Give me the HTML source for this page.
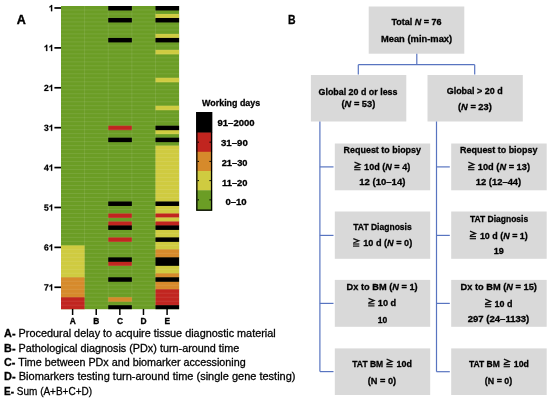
<!DOCTYPE html>
<html><head><meta charset="utf-8"><style>
html,body{margin:0;padding:0;background:#fff;width:550px;height:400px;overflow:hidden}
svg{display:block;will-change:transform}
text{font-family:"Liberation Sans",sans-serif;fill:#000}
.ar{font-weight:bold}
.b{font-weight:bold;stroke:#000;stroke-width:0.3px}
.r{font-weight:normal;stroke:#000;stroke-width:0.28px}
</style></head><body>
<svg width="550" height="400" viewBox="0 0 550 400">
<rect width="550" height="400" fill="#fff"/>
<rect x="61.0" y="6.0" width="118.10" height="303.20" fill="#6b9d25"/>
<rect x="61.00" y="245.37" width="23.62" height="32.42" fill="#cfcb40"/>
<rect x="61.00" y="277.28" width="23.62" height="20.45" fill="#d68a2b"/>
<rect x="61.00" y="297.23" width="23.62" height="11.97" fill="#c1251f"/>
<rect x="108.24" y="125.68" width="23.62" height="4.49" fill="#c1251f"/>
<rect x="108.24" y="213.45" width="23.62" height="4.49" fill="#c1251f"/>
<rect x="108.24" y="221.43" width="23.62" height="4.49" fill="#c1251f"/>
<rect x="108.24" y="237.39" width="23.62" height="4.49" fill="#c1251f"/>
<rect x="108.24" y="261.33" width="23.62" height="4.49" fill="#c1251f"/>
<rect x="108.24" y="297.23" width="23.62" height="4.49" fill="#d68a2b"/>
<rect x="155.48" y="13.98" width="23.62" height="4.49" fill="#cfcb40"/>
<rect x="155.48" y="33.93" width="23.62" height="4.49" fill="#cfcb40"/>
<rect x="155.48" y="49.88" width="23.62" height="4.49" fill="#cfcb40"/>
<rect x="155.48" y="77.81" width="23.62" height="4.49" fill="#cfcb40"/>
<rect x="155.48" y="105.74" width="23.62" height="4.49" fill="#cfcb40"/>
<rect x="155.48" y="129.67" width="23.62" height="4.49" fill="#cfcb40"/>
<rect x="155.48" y="145.63" width="23.62" height="56.35" fill="#cfcb40"/>
<rect x="155.48" y="205.47" width="23.62" height="8.48" fill="#cfcb40"/>
<rect x="155.48" y="213.45" width="23.62" height="4.49" fill="#c1251f"/>
<rect x="155.48" y="217.44" width="23.62" height="4.49" fill="#cfcb40"/>
<rect x="155.48" y="221.43" width="23.62" height="4.49" fill="#c1251f"/>
<rect x="155.48" y="229.41" width="23.62" height="8.48" fill="#cfcb40"/>
<rect x="155.48" y="241.38" width="23.62" height="8.48" fill="#cfcb40"/>
<rect x="155.48" y="249.36" width="23.62" height="8.48" fill="#d68a2b"/>
<rect x="155.48" y="265.32" width="23.62" height="8.48" fill="#cfcb40"/>
<rect x="155.48" y="273.29" width="23.62" height="4.49" fill="#d68a2b"/>
<rect x="155.48" y="281.27" width="23.62" height="8.48" fill="#d68a2b"/>
<rect x="155.48" y="289.25" width="23.62" height="16.46" fill="#c1251f"/>
<line x1="61.0" x2="179.1" y1="9.99" y2="9.99" stroke="#fff" stroke-opacity="0.16" stroke-width="0.6"/>
<line x1="61.0" x2="179.1" y1="13.98" y2="13.98" stroke="#fff" stroke-opacity="0.16" stroke-width="0.6"/>
<line x1="61.0" x2="179.1" y1="17.97" y2="17.97" stroke="#fff" stroke-opacity="0.16" stroke-width="0.6"/>
<line x1="61.0" x2="179.1" y1="21.96" y2="21.96" stroke="#fff" stroke-opacity="0.16" stroke-width="0.6"/>
<line x1="61.0" x2="179.1" y1="25.95" y2="25.95" stroke="#fff" stroke-opacity="0.16" stroke-width="0.6"/>
<line x1="61.0" x2="179.1" y1="29.94" y2="29.94" stroke="#fff" stroke-opacity="0.16" stroke-width="0.6"/>
<line x1="61.0" x2="179.1" y1="33.93" y2="33.93" stroke="#fff" stroke-opacity="0.16" stroke-width="0.6"/>
<line x1="61.0" x2="179.1" y1="37.92" y2="37.92" stroke="#fff" stroke-opacity="0.16" stroke-width="0.6"/>
<line x1="61.0" x2="179.1" y1="41.91" y2="41.91" stroke="#fff" stroke-opacity="0.16" stroke-width="0.6"/>
<line x1="61.0" x2="179.1" y1="45.89" y2="45.89" stroke="#fff" stroke-opacity="0.16" stroke-width="0.6"/>
<line x1="61.0" x2="179.1" y1="49.88" y2="49.88" stroke="#fff" stroke-opacity="0.16" stroke-width="0.6"/>
<line x1="61.0" x2="179.1" y1="53.87" y2="53.87" stroke="#fff" stroke-opacity="0.16" stroke-width="0.6"/>
<line x1="61.0" x2="179.1" y1="57.86" y2="57.86" stroke="#fff" stroke-opacity="0.16" stroke-width="0.6"/>
<line x1="61.0" x2="179.1" y1="61.85" y2="61.85" stroke="#fff" stroke-opacity="0.16" stroke-width="0.6"/>
<line x1="61.0" x2="179.1" y1="65.84" y2="65.84" stroke="#fff" stroke-opacity="0.16" stroke-width="0.6"/>
<line x1="61.0" x2="179.1" y1="69.83" y2="69.83" stroke="#fff" stroke-opacity="0.16" stroke-width="0.6"/>
<line x1="61.0" x2="179.1" y1="73.82" y2="73.82" stroke="#fff" stroke-opacity="0.16" stroke-width="0.6"/>
<line x1="61.0" x2="179.1" y1="77.81" y2="77.81" stroke="#fff" stroke-opacity="0.16" stroke-width="0.6"/>
<line x1="61.0" x2="179.1" y1="81.80" y2="81.80" stroke="#fff" stroke-opacity="0.16" stroke-width="0.6"/>
<line x1="61.0" x2="179.1" y1="85.79" y2="85.79" stroke="#fff" stroke-opacity="0.16" stroke-width="0.6"/>
<line x1="61.0" x2="179.1" y1="89.78" y2="89.78" stroke="#fff" stroke-opacity="0.16" stroke-width="0.6"/>
<line x1="61.0" x2="179.1" y1="93.77" y2="93.77" stroke="#fff" stroke-opacity="0.16" stroke-width="0.6"/>
<line x1="61.0" x2="179.1" y1="97.76" y2="97.76" stroke="#fff" stroke-opacity="0.16" stroke-width="0.6"/>
<line x1="61.0" x2="179.1" y1="101.75" y2="101.75" stroke="#fff" stroke-opacity="0.16" stroke-width="0.6"/>
<line x1="61.0" x2="179.1" y1="105.74" y2="105.74" stroke="#fff" stroke-opacity="0.16" stroke-width="0.6"/>
<line x1="61.0" x2="179.1" y1="109.73" y2="109.73" stroke="#fff" stroke-opacity="0.16" stroke-width="0.6"/>
<line x1="61.0" x2="179.1" y1="113.72" y2="113.72" stroke="#fff" stroke-opacity="0.16" stroke-width="0.6"/>
<line x1="61.0" x2="179.1" y1="117.71" y2="117.71" stroke="#fff" stroke-opacity="0.16" stroke-width="0.6"/>
<line x1="61.0" x2="179.1" y1="121.69" y2="121.69" stroke="#fff" stroke-opacity="0.16" stroke-width="0.6"/>
<line x1="61.0" x2="179.1" y1="125.68" y2="125.68" stroke="#fff" stroke-opacity="0.16" stroke-width="0.6"/>
<line x1="61.0" x2="179.1" y1="129.67" y2="129.67" stroke="#fff" stroke-opacity="0.16" stroke-width="0.6"/>
<line x1="61.0" x2="179.1" y1="133.66" y2="133.66" stroke="#fff" stroke-opacity="0.16" stroke-width="0.6"/>
<line x1="61.0" x2="179.1" y1="137.65" y2="137.65" stroke="#fff" stroke-opacity="0.16" stroke-width="0.6"/>
<line x1="61.0" x2="179.1" y1="141.64" y2="141.64" stroke="#fff" stroke-opacity="0.16" stroke-width="0.6"/>
<line x1="61.0" x2="179.1" y1="145.63" y2="145.63" stroke="#fff" stroke-opacity="0.16" stroke-width="0.6"/>
<line x1="61.0" x2="179.1" y1="149.62" y2="149.62" stroke="#fff" stroke-opacity="0.16" stroke-width="0.6"/>
<line x1="61.0" x2="179.1" y1="153.61" y2="153.61" stroke="#fff" stroke-opacity="0.16" stroke-width="0.6"/>
<line x1="61.0" x2="179.1" y1="157.60" y2="157.60" stroke="#fff" stroke-opacity="0.16" stroke-width="0.6"/>
<line x1="61.0" x2="179.1" y1="161.59" y2="161.59" stroke="#fff" stroke-opacity="0.16" stroke-width="0.6"/>
<line x1="61.0" x2="179.1" y1="165.58" y2="165.58" stroke="#fff" stroke-opacity="0.16" stroke-width="0.6"/>
<line x1="61.0" x2="179.1" y1="169.57" y2="169.57" stroke="#fff" stroke-opacity="0.16" stroke-width="0.6"/>
<line x1="61.0" x2="179.1" y1="173.56" y2="173.56" stroke="#fff" stroke-opacity="0.16" stroke-width="0.6"/>
<line x1="61.0" x2="179.1" y1="177.55" y2="177.55" stroke="#fff" stroke-opacity="0.16" stroke-width="0.6"/>
<line x1="61.0" x2="179.1" y1="181.54" y2="181.54" stroke="#fff" stroke-opacity="0.16" stroke-width="0.6"/>
<line x1="61.0" x2="179.1" y1="185.53" y2="185.53" stroke="#fff" stroke-opacity="0.16" stroke-width="0.6"/>
<line x1="61.0" x2="179.1" y1="189.52" y2="189.52" stroke="#fff" stroke-opacity="0.16" stroke-width="0.6"/>
<line x1="61.0" x2="179.1" y1="193.51" y2="193.51" stroke="#fff" stroke-opacity="0.16" stroke-width="0.6"/>
<line x1="61.0" x2="179.1" y1="197.49" y2="197.49" stroke="#fff" stroke-opacity="0.16" stroke-width="0.6"/>
<line x1="61.0" x2="179.1" y1="201.48" y2="201.48" stroke="#fff" stroke-opacity="0.16" stroke-width="0.6"/>
<line x1="61.0" x2="179.1" y1="205.47" y2="205.47" stroke="#fff" stroke-opacity="0.16" stroke-width="0.6"/>
<line x1="61.0" x2="179.1" y1="209.46" y2="209.46" stroke="#fff" stroke-opacity="0.16" stroke-width="0.6"/>
<line x1="61.0" x2="179.1" y1="213.45" y2="213.45" stroke="#fff" stroke-opacity="0.16" stroke-width="0.6"/>
<line x1="61.0" x2="179.1" y1="217.44" y2="217.44" stroke="#fff" stroke-opacity="0.16" stroke-width="0.6"/>
<line x1="61.0" x2="179.1" y1="221.43" y2="221.43" stroke="#fff" stroke-opacity="0.16" stroke-width="0.6"/>
<line x1="61.0" x2="179.1" y1="225.42" y2="225.42" stroke="#fff" stroke-opacity="0.16" stroke-width="0.6"/>
<line x1="61.0" x2="179.1" y1="229.41" y2="229.41" stroke="#fff" stroke-opacity="0.16" stroke-width="0.6"/>
<line x1="61.0" x2="179.1" y1="233.40" y2="233.40" stroke="#fff" stroke-opacity="0.16" stroke-width="0.6"/>
<line x1="61.0" x2="179.1" y1="237.39" y2="237.39" stroke="#fff" stroke-opacity="0.16" stroke-width="0.6"/>
<line x1="61.0" x2="179.1" y1="241.38" y2="241.38" stroke="#fff" stroke-opacity="0.16" stroke-width="0.6"/>
<line x1="61.0" x2="179.1" y1="245.37" y2="245.37" stroke="#fff" stroke-opacity="0.16" stroke-width="0.6"/>
<line x1="61.0" x2="179.1" y1="249.36" y2="249.36" stroke="#fff" stroke-opacity="0.16" stroke-width="0.6"/>
<line x1="61.0" x2="179.1" y1="253.35" y2="253.35" stroke="#fff" stroke-opacity="0.16" stroke-width="0.6"/>
<line x1="61.0" x2="179.1" y1="257.34" y2="257.34" stroke="#fff" stroke-opacity="0.16" stroke-width="0.6"/>
<line x1="61.0" x2="179.1" y1="261.33" y2="261.33" stroke="#fff" stroke-opacity="0.16" stroke-width="0.6"/>
<line x1="61.0" x2="179.1" y1="265.32" y2="265.32" stroke="#fff" stroke-opacity="0.16" stroke-width="0.6"/>
<line x1="61.0" x2="179.1" y1="269.31" y2="269.31" stroke="#fff" stroke-opacity="0.16" stroke-width="0.6"/>
<line x1="61.0" x2="179.1" y1="273.29" y2="273.29" stroke="#fff" stroke-opacity="0.16" stroke-width="0.6"/>
<line x1="61.0" x2="179.1" y1="277.28" y2="277.28" stroke="#fff" stroke-opacity="0.16" stroke-width="0.6"/>
<line x1="61.0" x2="179.1" y1="281.27" y2="281.27" stroke="#fff" stroke-opacity="0.16" stroke-width="0.6"/>
<line x1="61.0" x2="179.1" y1="285.26" y2="285.26" stroke="#fff" stroke-opacity="0.16" stroke-width="0.6"/>
<line x1="61.0" x2="179.1" y1="289.25" y2="289.25" stroke="#fff" stroke-opacity="0.16" stroke-width="0.6"/>
<line x1="61.0" x2="179.1" y1="293.24" y2="293.24" stroke="#fff" stroke-opacity="0.16" stroke-width="0.6"/>
<line x1="61.0" x2="179.1" y1="297.23" y2="297.23" stroke="#fff" stroke-opacity="0.16" stroke-width="0.6"/>
<line x1="61.0" x2="179.1" y1="301.22" y2="301.22" stroke="#fff" stroke-opacity="0.16" stroke-width="0.6"/>
<line x1="61.0" x2="179.1" y1="305.21" y2="305.21" stroke="#fff" stroke-opacity="0.16" stroke-width="0.6"/>
<line x1="84.62" x2="84.62" y1="6.0" y2="309.2" stroke="#fff" stroke-opacity="0.16" stroke-width="0.6"/>
<line x1="108.24" x2="108.24" y1="6.0" y2="309.2" stroke="#fff" stroke-opacity="0.16" stroke-width="0.6"/>
<line x1="131.86" x2="131.86" y1="6.0" y2="309.2" stroke="#fff" stroke-opacity="0.16" stroke-width="0.6"/>
<line x1="155.48" x2="155.48" y1="6.0" y2="309.2" stroke="#fff" stroke-opacity="0.16" stroke-width="0.6"/>
<rect x="108.24" y="6.00" width="23.62" height="4.49" fill="#000000"/>
<rect x="108.24" y="17.97" width="23.62" height="4.49" fill="#000000"/>
<rect x="108.24" y="37.92" width="23.62" height="4.49" fill="#000000"/>
<rect x="108.24" y="137.65" width="23.62" height="4.49" fill="#000000"/>
<rect x="108.24" y="201.48" width="23.62" height="4.49" fill="#000000"/>
<rect x="108.24" y="225.42" width="23.62" height="4.49" fill="#000000"/>
<rect x="108.24" y="257.34" width="23.62" height="4.49" fill="#000000"/>
<rect x="108.24" y="277.28" width="23.62" height="4.49" fill="#000000"/>
<rect x="108.24" y="305.21" width="23.62" height="3.99" fill="#000000"/>
<rect x="155.48" y="6.00" width="23.62" height="4.49" fill="#000000"/>
<rect x="155.48" y="17.97" width="23.62" height="4.49" fill="#000000"/>
<rect x="155.48" y="37.92" width="23.62" height="4.49" fill="#000000"/>
<rect x="155.48" y="125.68" width="23.62" height="4.49" fill="#000000"/>
<rect x="155.48" y="137.65" width="23.62" height="4.49" fill="#000000"/>
<rect x="155.48" y="201.48" width="23.62" height="4.49" fill="#000000"/>
<rect x="155.48" y="225.42" width="23.62" height="4.49" fill="#000000"/>
<rect x="155.48" y="237.39" width="23.62" height="4.49" fill="#000000"/>
<rect x="155.48" y="257.34" width="23.62" height="8.48" fill="#000000"/>
<rect x="155.48" y="277.28" width="23.62" height="4.49" fill="#000000"/>
<rect x="155.48" y="305.21" width="23.62" height="3.99" fill="#000000"/>
<line x1="54.4" x2="61.0" y1="7.99" y2="7.99" stroke="#000" stroke-width="1.7"/>
<path transform="translate(48.81,11.14) scale(0.00430,-0.00430)" d="M780 0L506 0L506 1032Q356 892 152 825L152 1073Q259 1108 385 1206Q511 1305 558 1436L780 1436Z" stroke="#000" stroke-width="58" stroke-linejoin="round"/>
<line x1="54.4" x2="61.0" y1="47.89" y2="47.89" stroke="#000" stroke-width="1.7"/>
<path transform="translate(43.91,51.04) scale(0.00430,-0.00430)" d="M780 0L506 0L506 1032Q356 892 152 825L152 1073Q259 1108 385 1206Q511 1305 558 1436L780 1436Z" stroke="#000" stroke-width="58" stroke-linejoin="round"/>
<path transform="translate(48.81,51.04) scale(0.00430,-0.00430)" d="M780 0L506 0L506 1032Q356 892 152 825L152 1073Q259 1108 385 1206Q511 1305 558 1436L780 1436Z" stroke="#000" stroke-width="58" stroke-linejoin="round"/>
<line x1="54.4" x2="61.0" y1="87.78" y2="87.78" stroke="#000" stroke-width="1.7"/>
<path transform="translate(43.91,90.93) scale(0.00430,-0.00430)" d="M71 0V195Q126 316 227.5 431.0Q329 546 483 671Q631 791 690.5 869.0Q750 947 750 1022Q750 1206 565 1206Q475 1206 427.5 1157.5Q380 1109 366 1012L83 1028Q107 1224 229.5 1327.0Q352 1430 563 1430Q791 1430 913.0 1326.0Q1035 1222 1035 1034Q1035 935 996.0 855.0Q957 775 896.0 707.5Q835 640 760.5 581.0Q686 522 616.0 466.0Q546 410 488.5 353.0Q431 296 403 231H1057V0Z" stroke="#000" stroke-width="58" stroke-linejoin="round"/>
<path transform="translate(48.81,90.93) scale(0.00430,-0.00430)" d="M780 0L506 0L506 1032Q356 892 152 825L152 1073Q259 1108 385 1206Q511 1305 558 1436L780 1436Z" stroke="#000" stroke-width="58" stroke-linejoin="round"/>
<line x1="54.4" x2="61.0" y1="127.68" y2="127.68" stroke="#000" stroke-width="1.7"/>
<path transform="translate(43.91,130.83) scale(0.00430,-0.00430)" d="M1065 391Q1065 193 935.0 85.0Q805 -23 565 -23Q338 -23 204.0 81.5Q70 186 47 383L333 408Q360 205 564 205Q665 205 721.0 255.0Q777 305 777 408Q777 502 709.0 552.0Q641 602 507 602H409V829H501Q622 829 683.0 878.5Q744 928 744 1020Q744 1107 695.5 1156.5Q647 1206 554 1206Q467 1206 413.5 1158.0Q360 1110 352 1022L71 1042Q93 1224 222.0 1327.0Q351 1430 559 1430Q780 1430 904.5 1330.5Q1029 1231 1029 1055Q1029 923 951.5 838.0Q874 753 728 725V721Q890 702 977.5 614.5Q1065 527 1065 391Z" stroke="#000" stroke-width="58" stroke-linejoin="round"/>
<path transform="translate(48.81,130.83) scale(0.00430,-0.00430)" d="M780 0L506 0L506 1032Q356 892 152 825L152 1073Q259 1108 385 1206Q511 1305 558 1436L780 1436Z" stroke="#000" stroke-width="58" stroke-linejoin="round"/>
<line x1="54.4" x2="61.0" y1="167.57" y2="167.57" stroke="#000" stroke-width="1.7"/>
<path transform="translate(43.91,170.72) scale(0.00430,-0.00430)" d="M940 287V0H672V287H31V498L626 1409H940V496H1128V287ZM672 957Q672 1011 675.5 1074.0Q679 1137 681 1155Q655 1099 587 993L260 496H672Z" stroke="#000" stroke-width="58" stroke-linejoin="round"/>
<path transform="translate(48.81,170.72) scale(0.00430,-0.00430)" d="M780 0L506 0L506 1032Q356 892 152 825L152 1073Q259 1108 385 1206Q511 1305 558 1436L780 1436Z" stroke="#000" stroke-width="58" stroke-linejoin="round"/>
<line x1="54.4" x2="61.0" y1="207.47" y2="207.47" stroke="#000" stroke-width="1.7"/>
<path transform="translate(43.91,210.62) scale(0.00430,-0.00430)" d="M1082 469Q1082 245 942.5 112.5Q803 -20 560 -20Q348 -20 220.5 75.5Q93 171 63 352L344 375Q366 285 422.0 244.0Q478 203 563 203Q668 203 730.5 270.0Q793 337 793 463Q793 574 734.0 640.5Q675 707 569 707Q452 707 378 616H104L153 1409H1000V1200H408L385 844Q487 934 640 934Q841 934 961.5 809.0Q1082 684 1082 469Z" stroke="#000" stroke-width="58" stroke-linejoin="round"/>
<path transform="translate(48.81,210.62) scale(0.00430,-0.00430)" d="M780 0L506 0L506 1032Q356 892 152 825L152 1073Q259 1108 385 1206Q511 1305 558 1436L780 1436Z" stroke="#000" stroke-width="58" stroke-linejoin="round"/>
<line x1="54.4" x2="61.0" y1="247.36" y2="247.36" stroke="#000" stroke-width="1.7"/>
<path transform="translate(43.91,250.51) scale(0.00430,-0.00430)" d="M1065 461Q1065 236 939.0 108.0Q813 -20 591 -20Q342 -20 208.5 154.5Q75 329 75 672Q75 1049 210.5 1239.5Q346 1430 598 1430Q777 1430 880.5 1351.0Q984 1272 1027 1106L762 1069Q724 1208 592 1208Q479 1208 414.5 1095.0Q350 982 350 752Q395 827 475.0 867.0Q555 907 656 907Q845 907 955.0 787.0Q1065 667 1065 461ZM783 453Q783 573 727.5 636.5Q672 700 575 700Q482 700 426.0 640.5Q370 581 370 483Q370 360 428.5 279.5Q487 199 582 199Q677 199 730.0 266.5Q783 334 783 453Z" stroke="#000" stroke-width="58" stroke-linejoin="round"/>
<path transform="translate(48.81,250.51) scale(0.00430,-0.00430)" d="M780 0L506 0L506 1032Q356 892 152 825L152 1073Q259 1108 385 1206Q511 1305 558 1436L780 1436Z" stroke="#000" stroke-width="58" stroke-linejoin="round"/>
<line x1="54.4" x2="61.0" y1="287.26" y2="287.26" stroke="#000" stroke-width="1.7"/>
<path transform="translate(43.91,290.41) scale(0.00430,-0.00430)" d="M1049 1186Q954 1036 869.5 895.0Q785 754 722.0 611.5Q659 469 622.5 318.5Q586 168 586 0H293Q293 176 339.0 340.5Q385 505 472.0 675.5Q559 846 788 1178H88V1409H1049Z" stroke="#000" stroke-width="58" stroke-linejoin="round"/>
<path transform="translate(48.81,290.41) scale(0.00430,-0.00430)" d="M780 0L506 0L506 1032Q356 892 152 825L152 1073Q259 1108 385 1206Q511 1305 558 1436L780 1436Z" stroke="#000" stroke-width="58" stroke-linejoin="round"/>
<line x1="72.61" x2="72.61" y1="308.9" y2="315" stroke="#000" stroke-width="1.5"/>
<text x="72.71" y="324.3" text-anchor="middle" class="ar" font-size="8.4" style="stroke:#000;stroke-width:0.3px">A</text>
<line x1="96.23" x2="96.23" y1="308.9" y2="315" stroke="#000" stroke-width="1.5"/>
<text x="96.33" y="324.3" text-anchor="middle" class="ar" font-size="8.4" style="stroke:#000;stroke-width:0.3px">B</text>
<line x1="119.85" x2="119.85" y1="308.9" y2="315" stroke="#000" stroke-width="1.5"/>
<text x="119.95" y="324.3" text-anchor="middle" class="ar" font-size="8.4" style="stroke:#000;stroke-width:0.3px">C</text>
<line x1="143.47" x2="143.47" y1="308.9" y2="315" stroke="#000" stroke-width="1.5"/>
<text x="143.57" y="324.3" text-anchor="middle" class="ar" font-size="8.4" style="stroke:#000;stroke-width:0.3px">D</text>
<line x1="167.09" x2="167.09" y1="308.9" y2="315" stroke="#000" stroke-width="1.5"/>
<text x="167.19" y="324.3" text-anchor="middle" class="ar" font-size="8.4" style="stroke:#000;stroke-width:0.3px">E</text>
<text x="16.8" y="24" class="ar" font-size="12.5" style="stroke:#000;stroke-width:0.4px">A</text>
<text x="288.00" y="23.70" class="b" font-size="12.6" textLength="7.60" lengthAdjust="spacingAndGlyphs">B</text>
<text x="202.10" y="105.70" class="b" font-size="9.4" textLength="58.10" lengthAdjust="spacingAndGlyphs">Working days</text>
<rect x="196.2" y="112.00" width="16.0" height="20.94" fill="#000000"/>
<line x1="197.5" x2="199.0" y1="122.92" y2="122.92" stroke="#000" stroke-width="1"/>
<line x1="209.39999999999998" x2="210.89999999999998" y1="122.92" y2="122.92" stroke="#000" stroke-width="1"/>
<rect x="196.2" y="132.54" width="16.0" height="19.64" fill="#c1251f"/>
<line x1="197.5" x2="199.0" y1="142.16" y2="142.16" stroke="#000" stroke-width="1"/>
<line x1="209.39999999999998" x2="210.89999999999998" y1="142.16" y2="142.16" stroke="#000" stroke-width="1"/>
<rect x="196.2" y="151.78" width="16.0" height="19.64" fill="#d68a2b"/>
<line x1="197.5" x2="199.0" y1="161.40" y2="161.40" stroke="#000" stroke-width="1"/>
<line x1="209.39999999999998" x2="210.89999999999998" y1="161.40" y2="161.40" stroke="#000" stroke-width="1"/>
<rect x="196.2" y="171.02" width="16.0" height="19.64" fill="#cfcb40"/>
<line x1="197.5" x2="199.0" y1="180.64" y2="180.64" stroke="#000" stroke-width="1"/>
<line x1="209.39999999999998" x2="210.89999999999998" y1="180.64" y2="180.64" stroke="#000" stroke-width="1"/>
<rect x="196.2" y="190.26" width="16.0" height="20.54" fill="#6b9d25"/>
<line x1="197.5" x2="199.0" y1="199.88" y2="199.88" stroke="#000" stroke-width="1"/>
<line x1="209.39999999999998" x2="210.89999999999998" y1="199.88" y2="199.88" stroke="#000" stroke-width="1"/>
<rect x="196.85" y="112.65" width="14.7" height="97.50000000000001" fill="none" stroke="#000" stroke-width="1.3"/>
<text x="217.50" y="126.30" class="b" font-size="9.4" textLength="37.10" lengthAdjust="spacingAndGlyphs">91–2000</text>
<text x="221.00" y="145.60" class="b" font-size="9.4" textLength="26.80" lengthAdjust="spacingAndGlyphs">31–90</text>
<text x="221.70" y="165.80" class="b" font-size="9.4" textLength="25.80" lengthAdjust="spacingAndGlyphs">21–30</text>
<text x="222.00" y="185.70" class="b" font-size="9.4" textLength="25.50" lengthAdjust="spacingAndGlyphs">11–20</text>
<text x="225.40" y="205.40" class="b" font-size="9.4" textLength="21.30" lengthAdjust="spacingAndGlyphs">0–10</text>
<text x="4.1" y="336.8" class="r" font-size="10.6" textLength="271.60" lengthAdjust="spacingAndGlyphs"><tspan font-weight="bold">A-</tspan> Procedural delay to acquire tissue diagnostic material</text>
<text x="4.1" y="351.6" class="r" font-size="10.6" textLength="235.20" lengthAdjust="spacingAndGlyphs"><tspan font-weight="bold">B-</tspan> Pathological diagnosis (PDx) turn-around time</text>
<text x="4.1" y="365.8" class="r" font-size="10.6" textLength="241.60" lengthAdjust="spacingAndGlyphs"><tspan font-weight="bold">C-</tspan> Time between PDx and biomarker accessioning</text>
<text x="4.1" y="380.2" class="r" font-size="10.6" textLength="291.40" lengthAdjust="spacingAndGlyphs"><tspan font-weight="bold">D-</tspan> Biomarkers testing turn-around time (single gene testing)</text>
<text x="4.1" y="394.5" class="r" font-size="10.6" textLength="87.90" lengthAdjust="spacingAndGlyphs"><tspan font-weight="bold">E-</tspan> Sum (A+B+C+D)</text>
<rect x="368.7" y="6.5" width="95.60" height="47.20" fill="#d9d9d9"/>
<rect x="310.9" y="75" width="95.40" height="46.50" fill="#d9d9d9"/>
<rect x="427.5" y="75" width="95.30" height="46.50" fill="#d9d9d9"/>
<rect x="334.8" y="143.5" width="95.40" height="46.80" fill="#d9d9d9"/>
<rect x="451.2" y="143.5" width="95.50" height="46.80" fill="#d9d9d9"/>
<rect x="334.8" y="211.5" width="95.40" height="47.30" fill="#d9d9d9"/>
<rect x="451.2" y="211.5" width="95.50" height="47.30" fill="#d9d9d9"/>
<rect x="334.8" y="279.9" width="95.40" height="46.90" fill="#d9d9d9"/>
<rect x="451.2" y="279.9" width="95.50" height="46.90" fill="#d9d9d9"/>
<rect x="334.8" y="348.4" width="95.40" height="46.60" fill="#d9d9d9"/>
<rect x="451.2" y="348.4" width="95.50" height="46.60" fill="#d9d9d9"/>
<line x1="416.8" y1="53.7" x2="416.8" y2="64.7" stroke="#5874c0" stroke-width="1.2"/>
<line x1="358.3" y1="64.7" x2="474.7" y2="64.7" stroke="#5874c0" stroke-width="1.2"/>
<line x1="358.3" y1="64.7" x2="358.3" y2="74.5" stroke="#5874c0" stroke-width="1.2"/>
<line x1="474.7" y1="64.7" x2="474.7" y2="74.5" stroke="#5874c0" stroke-width="1.2"/>
<line x1="319.9" y1="121.5" x2="319.9" y2="371.6" stroke="#5874c0" stroke-width="1.2"/>
<line x1="436.5" y1="121.5" x2="436.5" y2="371.7" stroke="#5874c0" stroke-width="1.2"/>
<path d="M319.9 371.6 L333.5 371.6" stroke="#5874c0" stroke-width="1.2"/>
<line x1="319.9" y1="166.9" x2="333.5" y2="166.9" stroke="#5874c0" stroke-width="1.2"/>
<line x1="319.9" y1="235.4" x2="333.5" y2="235.4" stroke="#5874c0" stroke-width="1.2"/>
<line x1="319.9" y1="303.4" x2="333.5" y2="303.4" stroke="#5874c0" stroke-width="1.2"/>
<line x1="436.5" y1="166.9" x2="449.8" y2="166.9" stroke="#5874c0" stroke-width="1.2"/>
<line x1="436.5" y1="235.4" x2="449.8" y2="235.4" stroke="#5874c0" stroke-width="1.2"/>
<line x1="436.5" y1="303.4" x2="449.8" y2="303.4" stroke="#5874c0" stroke-width="1.2"/>
<line x1="436.5" y1="371.7" x2="449.8" y2="371.7" stroke="#5874c0" stroke-width="1.2"/>
<text x="391.40" y="25.00" class="b" font-size="9.7" textLength="50.20" lengthAdjust="spacingAndGlyphs">Total <tspan font-style="italic">N</tspan> = 76</text>
<text x="380.90" y="42.00" class="b" font-size="9.7" textLength="71.30" lengthAdjust="spacingAndGlyphs">Mean (min-max)</text>
<text x="318.50" y="95.00" class="b" font-size="9.7" textLength="79.00" lengthAdjust="spacingAndGlyphs">Global 20 d or less</text>
<text x="341.50" y="107.00" class="b" font-size="9.7" textLength="33.80" lengthAdjust="spacingAndGlyphs">(<tspan font-style="italic">N</tspan> = 53)</text>
<text x="446.70" y="94.00" class="b" font-size="9.7" textLength="56.00" lengthAdjust="spacingAndGlyphs">Global &gt; 20 d</text>
<text x="458.00" y="110.00" class="b" font-size="9.7" textLength="33.80" lengthAdjust="spacingAndGlyphs">(<tspan font-style="italic">N</tspan> = 23)</text>
<text x="343.60" y="153.00" class="b" font-size="9.7" textLength="77.40" lengthAdjust="spacingAndGlyphs">Request to biopsy</text>
<path d="M354.50 162.20 L360.00 164.40 L354.50 166.60" fill="none" stroke="#111" stroke-width="1.3"/>
<line x1="354.20" x2="360.50" y1="167.60" y2="167.60" stroke="#111" stroke-width="1.2"/>
<line x1="354.20" x2="360.50" y1="169.70" y2="169.70" stroke="#111" stroke-width="1.2"/>
<text x="364.10" y="170.00" class="b" font-size="9.7" textLength="46.10" lengthAdjust="spacingAndGlyphs">10d (<tspan font-style="italic">N</tspan> = 4)</text>
<text x="359.30" y="185.00" class="b" font-size="9.7" textLength="46.10" lengthAdjust="spacingAndGlyphs">12 (10–14)</text>
<text x="460.10" y="153.00" class="b" font-size="9.7" textLength="77.30" lengthAdjust="spacingAndGlyphs">Request to biopsy</text>
<path d="M468.40 162.20 L473.90 164.40 L468.40 166.60" fill="none" stroke="#111" stroke-width="1.3"/>
<line x1="468.10" x2="474.40" y1="167.60" y2="167.60" stroke="#111" stroke-width="1.2"/>
<line x1="468.10" x2="474.40" y1="169.70" y2="169.70" stroke="#111" stroke-width="1.2"/>
<text x="477.80" y="170.00" class="b" font-size="9.7" textLength="52.20" lengthAdjust="spacingAndGlyphs">10d (<tspan font-style="italic">N</tspan> = 13)</text>
<text x="475.80" y="185.00" class="b" font-size="9.7" textLength="45.40" lengthAdjust="spacingAndGlyphs">12 (12–44)</text>
<text x="353.30" y="230.00" class="b" font-size="9.7" textLength="58.40" lengthAdjust="spacingAndGlyphs">TAT Diagnosis</text>
<path d="M353.30 238.60 L358.80 240.80 L353.30 243.00" fill="none" stroke="#111" stroke-width="1.3"/>
<line x1="353.00" x2="359.30" y1="244.00" y2="244.00" stroke="#111" stroke-width="1.2"/>
<line x1="353.00" x2="359.30" y1="246.10" y2="246.10" stroke="#111" stroke-width="1.2"/>
<text x="363.20" y="246.40" class="b" font-size="9.7" textLength="49.00" lengthAdjust="spacingAndGlyphs">10 d (<tspan font-style="italic">N</tspan> = 0)</text>
<text x="469.90" y="222.00" class="b" font-size="9.7" textLength="58.30" lengthAdjust="spacingAndGlyphs">TAT Diagnosis</text>
<path d="M470.00 231.20 L475.50 233.40 L470.00 235.60" fill="none" stroke="#111" stroke-width="1.3"/>
<line x1="469.70" x2="476.00" y1="236.60" y2="236.60" stroke="#111" stroke-width="1.2"/>
<line x1="469.70" x2="476.00" y1="238.70" y2="238.70" stroke="#111" stroke-width="1.2"/>
<text x="479.90" y="239.00" class="b" font-size="9.7" textLength="47.90" lengthAdjust="spacingAndGlyphs">10 d (<tspan font-style="italic">N</tspan> = 1)</text>
<text x="493.70" y="254.00" class="b" font-size="9.7" textLength="10.10" lengthAdjust="spacingAndGlyphs">19</text>
<text x="346.60" y="290.00" class="b" font-size="9.7" textLength="71.00" lengthAdjust="spacingAndGlyphs">Dx to BM (<tspan font-style="italic">N</tspan> = 1)</text>
<path d="M368.50 298.40 L374.00 300.60 L368.50 302.80" fill="none" stroke="#111" stroke-width="1.3"/>
<line x1="368.20" x2="374.50" y1="303.80" y2="303.80" stroke="#111" stroke-width="1.2"/>
<line x1="368.20" x2="374.50" y1="305.90" y2="305.90" stroke="#111" stroke-width="1.2"/>
<text x="377.80" y="306.20" class="b" font-size="9.7" textLength="18.40" lengthAdjust="spacingAndGlyphs">10 d</text>
<text x="377.80" y="323.00" class="b" font-size="9.7" textLength="9.50" lengthAdjust="spacingAndGlyphs">10</text>
<text x="460.50" y="290.00" class="b" font-size="9.7" textLength="76.40" lengthAdjust="spacingAndGlyphs">Dx to BM (<tspan font-style="italic">N</tspan> = 15)</text>
<path d="M485.20 299.20 L490.70 301.40 L485.20 303.60" fill="none" stroke="#111" stroke-width="1.3"/>
<line x1="484.90" x2="491.20" y1="304.60" y2="304.60" stroke="#111" stroke-width="1.2"/>
<line x1="484.90" x2="491.20" y1="306.70" y2="306.70" stroke="#111" stroke-width="1.2"/>
<text x="494.60" y="307.00" class="b" font-size="9.7" textLength="17.90" lengthAdjust="spacingAndGlyphs">10 d</text>
<text x="467.70" y="322.00" class="b" font-size="9.7" textLength="61.60" lengthAdjust="spacingAndGlyphs">297 (24–1133)</text>
<text x="352.30" y="367.00" class="b" font-size="9.7" textLength="30.90" lengthAdjust="spacingAndGlyphs">TAT BM</text>
<path d="M386.60 359.20 L392.10 361.40 L386.60 363.60" fill="none" stroke="#111" stroke-width="1.3"/>
<line x1="386.30" x2="392.60" y1="364.60" y2="364.60" stroke="#111" stroke-width="1.2"/>
<line x1="386.30" x2="392.60" y1="366.70" y2="366.70" stroke="#111" stroke-width="1.2"/>
<text x="396.60" y="367.00" class="b" font-size="9.7" textLength="15.40" lengthAdjust="spacingAndGlyphs">10d</text>
<text x="367.80" y="384.00" class="b" font-size="9.7" textLength="28.40" lengthAdjust="spacingAndGlyphs">(N = 0)</text>
<text x="468.90" y="367.00" class="b" font-size="9.7" textLength="30.90" lengthAdjust="spacingAndGlyphs">TAT BM</text>
<path d="M503.90 359.20 L509.40 361.40 L503.90 363.60" fill="none" stroke="#111" stroke-width="1.3"/>
<line x1="503.60" x2="509.90" y1="364.60" y2="364.60" stroke="#111" stroke-width="1.2"/>
<line x1="503.60" x2="509.90" y1="366.70" y2="366.70" stroke="#111" stroke-width="1.2"/>
<text x="513.80" y="367.00" class="b" font-size="9.7" textLength="15.10" lengthAdjust="spacingAndGlyphs">10d</text>
<text x="484.80" y="384.00" class="b" font-size="9.7" textLength="27.40" lengthAdjust="spacingAndGlyphs">(N = 0)</text>
</svg>
</body></html>
